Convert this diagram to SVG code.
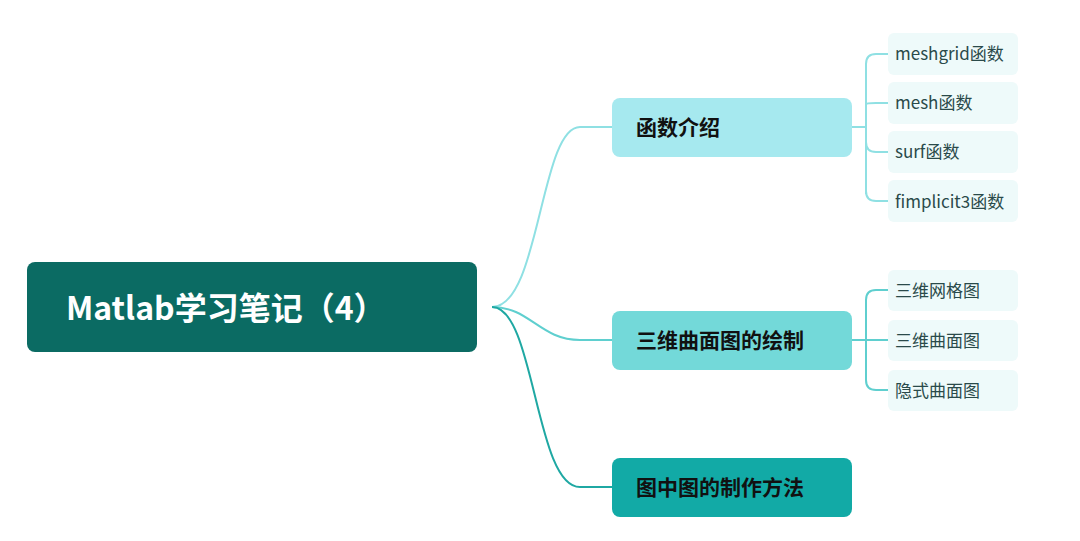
<svg xmlns="http://www.w3.org/2000/svg" width="1080" height="541" viewBox="0 0 1080 541">
<style>
.t{font-family:"Noto Sans CJK SC","Noto Sans",sans-serif}
.b{font-weight:bold;font-size:21px;fill:#111}
.l{font-size:17px;fill:#2a4a4a}
.leaf{fill:#eefafa}
.c{fill:none;stroke-width:2}
</style>
<rect width="1080" height="541" fill="#fff"/>
<g id="connectors">
<path class="c" stroke="#8fe0e3" d="M492,307 C540,307 540,127 580,127 L612,127"/>
<path class="c" stroke="#5fcfcf" d="M492,307 C530,307 540,340 580,340 L612,340"/>
<path class="c" stroke="#1fa8a3" d="M492,307 C535,307 535,487 580,487 L612,487"/>
<path class="c" stroke="#8fe0e3" stroke-width="1.5" d="M852,127 H866 M866,64 V194 M866,64 Q866,54 876,54 H888 M866,104 Q866,103 876,103 H888 M866,142 Q866,152 876,152 H888 M866,191 Q866,201 876,201 H888"/>
<path class="c" stroke="#5fcfcf" stroke-width="1.5" d="M852,340 H888 M866,300 V380 M866,300 Q866,290 876,290 H888 M866,380 Q866,390 876,390 H888"/>
</g>
<g id="root"><rect x="27" y="262" width="450" height="90" rx="8" fill="#0b6b63"/><text class="t" x="66" y="320" font-size="32" font-weight="bold" fill="#fff">Matlab学习笔记（4）</text></g>
<g id="n1"><rect x="612" y="98" width="240" height="59" rx="8" fill="#a6e9ef"/><text class="t b" x="636" y="135">函数介绍</text></g>
<g id="n2"><rect x="612" y="311" width="240" height="59" rx="8" fill="#73d9d9"/><text class="t b" x="636" y="348">三维曲面图的绘制</text></g>
<g id="n3"><rect x="612" y="458" width="240" height="59" rx="8" fill="#12aaa6"/><text class="t b" x="636" y="495">图中图的制作方法</text></g>
<g id="l1"><rect class="leaf" x="888" y="33" width="130" height="42" rx="6"/><text class="t l" x="895" y="60">meshgrid函数</text></g>
<g id="l2"><rect class="leaf" x="888" y="82" width="130" height="42" rx="6"/><text class="t l" x="895" y="109">mesh函数</text></g>
<g id="l3"><rect class="leaf" x="888" y="131" width="130" height="42" rx="6"/><text class="t l" x="895" y="158">surf函数</text></g>
<g id="l4"><rect class="leaf" x="888" y="180" width="130" height="42" rx="6"/><text class="t l" x="895" y="208">fimplicit3函数</text></g>
<g id="l5"><rect class="leaf" x="888" y="270" width="130" height="41" rx="6"/><text class="t l" x="895" y="297">三维网格图</text></g>
<g id="l6"><rect class="leaf" x="888" y="320" width="130" height="41" rx="6"/><text class="t l" x="895" y="347">三维曲面图</text></g>
<g id="l7"><rect class="leaf" x="888" y="370" width="130" height="41" rx="6"/><text class="t l" x="895" y="397">隐式曲面图</text></g>
</svg>
